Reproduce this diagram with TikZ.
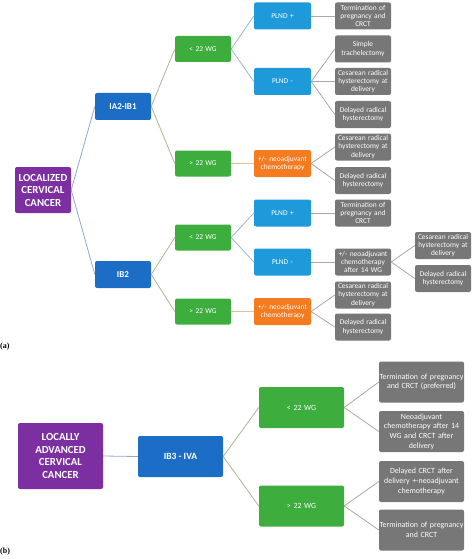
\documentclass[tikz,border=0pt]{standalone}
\usepackage{fontspec}
\setmainfont{Carlito}
\newfontfamily\labfont{Liberation Serif}
\definecolor{cpurple}{HTML}{7B2FA0}
\definecolor{cstage}{HTML}{1B6DC6}
\definecolor{cplnd}{HTML}{1E9ADB}
\definecolor{cgreen}{HTML}{3DAE3D}
\definecolor{corange}{HTML}{F47B20}
\definecolor{cgray}{HTML}{777777}
\definecolor{lblue}{HTML}{8FA8C8}
\definecolor{lolive}{HTML}{A9B78F}
\definecolor{lsky}{HTML}{9DB7C8}
\definecolor{lorange}{HTML}{E8BC96}
\definecolor{lgray}{HTML}{A8A8A8}
\begin{document}
\begin{tikzpicture}[x=1pt,y=-1pt,
  box/.style={rectangle,rounded corners=2pt,text=white,align=center,inner sep=0pt,draw=none},
  sa/.style={box,minimum width=56pt,minimum height=27pt,text width=55pt,font=\fontsize{7.4}{8.4}\selectfont},
  sb/.style={box,minimum width=85pt,minimum height=41pt,text width=84pt,font=\fontsize{7.9}{9.7}\selectfont},
  roota/.style={box,fill=cpurple,minimum width=56pt,minimum height=46pt,font=\fontsize{10.8}{12.5}\selectfont\bfseries},
  rootb/.style={box,fill=cpurple,minimum width=85pt,minimum height=66pt,font=\fontsize{10.8}{12.4}\selectfont\bfseries},
  stagea/.style={box,fill=cstage,minimum width=56pt,minimum height=27pt,font=\fontsize{9}{10}\selectfont\bfseries},
  stageb/.style={box,fill=cstage,minimum width=85pt,minimum height=41pt,font=\fontsize{9.5}{10}\selectfont\bfseries},
  wga/.style={sa,fill=cgreen,minimum height=26pt},
  plnd/.style={sa,fill=cplnd,minimum width=57pt},
  neo/.style={sa,fill=corange,minimum width=57pt},
  leafa/.style={sa,fill=cgray},
  wgb/.style={sb,fill=cgreen},
  leafb/.style={sb,fill=cgray},
  con/.style={line width=0.8pt},
  lab/.style={inner sep=0pt,font=\labfont\fontsize{8}{9}\selectfont\bfseries}
]
\useasboundingbox (0,0) rectangle (474,559);
% ---------- panel (a) ----------
\node[roota] (A) at (43,190) {LOCALIZED\\CERVICAL\\CANCER};
\node[stagea] (S1) at (123,106.5) {IA2-IB1};
\node[stagea] (S2) at (123,274.5) {IB2};
\node[wga] (W1) at (203,49) {< 22 WG};
\node[wga] (W2) at (203,163.5) {> 22 WG};
\node[wga] (W3) at (203,237.5) {< 22 WG};
\node[wga] (W4) at (203,311.5) {> 22 WG};
\node[plnd] (P1) at (282.5,16) {PLND +};
\node[plnd] (P2) at (282.5,81.5) {PLND -};
\node[neo] (N1) at (282.5,163.5) {+/- neoadjuvant\\chemotherapy};
\node[plnd] (P3) at (282.5,213) {PLND +};
\node[plnd] (P4) at (282.5,262) {PLND -};
\node[neo] (N2) at (282.5,311.5) {+/- neoadjuvant\\chemotherapy};
\node[leafa] (L1) at (363,16) {Termination of\\pregnancy and\\CRCT};
\node[leafa] (L2) at (363,49) {Simple\\trachelectomy};
\node[leafa] (L3) at (363,81.5) {Cesarean radical\\hysterectomy at\\delivery};
\node[leafa] (L4) at (363,114.5) {Delayed radical\\hysterectomy};
\node[leafa] (L5) at (363,147) {Cesarean radical\\hysterectomy at\\delivery};
\node[leafa] (L6) at (363,180.5) {Delayed radical\\hysterectomy};
\node[leafa] (L7) at (363,213) {Termination of\\pregnancy and\\CRCT};
\node[leafa] (L8) at (363,262) {+/- neoadjuvant\\chemotherapy\\after 14 WG};
\node[leafa] (L9) at (363,295) {Cesarean radical\\hysterectomy at\\delivery};
\node[leafa] (L10) at (363,327) {Delayed radical\\hysterectomy};
\node[leafa] (R1) at (443,245.5) {Cesarean radical\\hysterectomy at\\delivery};
\node[leafa] (R2) at (443,278.5) {Delayed radical\\hysterectomy};
\draw[con,lblue] (A.east) -- (S1.west);
\draw[con,lblue] (A.east) -- (S2.west);
\draw[con,lolive] (S1.east) -- (W1.west);
\draw[con,lolive] (S1.east) -- (W2.west);
\draw[con,lolive] (S2.east) -- (W3.west);
\draw[con,lolive] (S2.east) -- (W4.west);
\draw[con,lsky] (W1.east) -- (P1.west);
\draw[con,lsky] (W1.east) -- (P2.west);
\draw[con,lorange] (W2.east) -- (N1.west);
\draw[con,lsky] (W3.east) -- (P3.west);
\draw[con,lsky] (W3.east) -- (P4.west);
\draw[con,lorange] (W4.east) -- (N2.west);
\draw[con,lgray] (P1.east) -- (L1.west);
\draw[con,lgray] (P2.east) -- (L2.west);
\draw[con,lgray] (P2.east) -- (L3.west);
\draw[con,lgray] (P2.east) -- (L4.west);
\draw[con,lgray] (N1.east) -- (L5.west);
\draw[con,lgray] (N1.east) -- (L6.west);
\draw[con,lgray] (P3.east) -- (L7.west);
\draw[con,lgray] (P4.east) -- (L8.west);
\draw[con,lgray] (N2.east) -- (L9.west);
\draw[con,lgray] (N2.east) -- (L10.west);
\draw[con,lgray] (L8.east) -- (R1.west);
\draw[con,lgray] (L8.east) -- (R2.west);
\node[lab,anchor=west] (la) at (0,347) {(a)};
% ---------- panel (b) ----------
\node[rootb] (B) at (60.5,456) {LOCALLY\\ADVANCED\\CERVICAL\\CANCER};
\node[stageb] (BS) at (180.5,456.5) {IB3 - IVA};
\node[wgb] (BW1) at (301.5,407.5) {< 22 WG};
\node[wgb] (BW2) at (301.5,506) {> 22 WG};
\node[leafb] (BL1) at (421.5,382) {Termination of pregnancy\\and CRCT (preferred)};
\node[leafb] (BL2) at (421.5,431.5) {Neoadjuvant\\chemotherapy after 14\\WG and CRCT after\\delivery};
\node[leafb] (BL3) at (421.5,481.5) {Delayed CRCT after\\delivery +-neoadjuvant\\chemotherapy};
\node[leafb] (BL4) at (421.5,530) {Termination of pregnancy\\and CRCT};
\draw[con,lblue] (B.east) -- (BS.west);
\draw[con,lolive] (BS.east) -- (BW1.west);
\draw[con,lolive] (BS.east) -- (BW2.west);
\draw[con,lgray] (BW1.east) -- (BL1.west);
\draw[con,lgray] (BW1.east) -- (BL2.west);
\draw[con,lgray] (BW2.east) -- (BL3.west);
\draw[con,lgray] (BW2.east) -- (BL4.west);
\node[lab,anchor=west] (lb) at (0,552) {(b)};
\end{tikzpicture}
\end{document}
